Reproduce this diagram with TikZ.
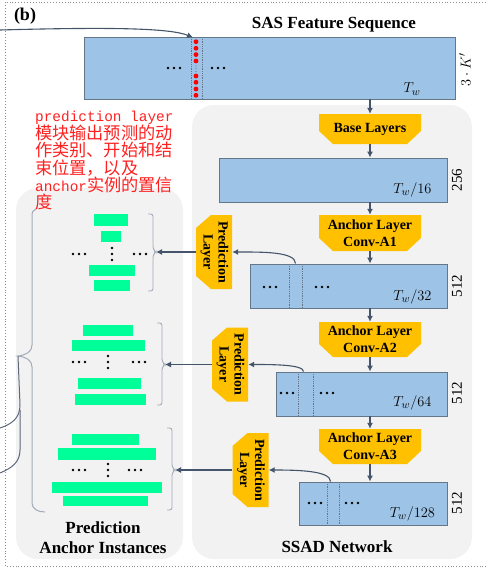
\documentclass[tikz,border=0pt]{standalone}
\usepackage{fontspec}
\setmainfont{Liberation Serif}
\newfontfamily\cjk{Noto Sans CJK SC}
\newfontfamily\lmono{Liberation Mono}
\usetikzlibrary{arrows.meta}
\definecolor{rfill}{HTML}{9DC3E6}
\definecolor{rdraw}{HTML}{66768A}
\definecolor{arrc}{HTML}{44546A}
\definecolor{ylw}{HTML}{FFC000}
\definecolor{panelc}{HTML}{F2F2F2}
\definecolor{barg}{HTML}{00FF99}
\definecolor{brc}{HTML}{A3AAB8}
\definecolor{crvc}{HTML}{5C687C}
\definecolor{framec}{HTML}{8C8C8C}
\definecolor{redt}{HTML}{FF2020}
\newcommand\myhdots[2]{\foreach \dx in {-6,0,6} \fill[black] (#1+\dx,#2) circle (1.3pt);}
\newcommand\myvdots[2]{\foreach \dy in {-6,0,6} \fill[black] (#1,#2+\dy) circle (1.3pt);}
\begin{document}
\begin{tikzpicture}[x=1pt,y=-1pt,
  fmap/.style={draw=rdraw, fill=rfill, line width=0.9pt, inner sep=0pt},
  arr/.style={draw=arrc, line width=1.1pt, -{Latex[length=6pt,width=6pt]}},
  panel/.style={fill=panelc, rounded corners=22pt, inner sep=0pt},
  ylay/.style={minimum width=102pt, minimum height=#1, inner sep=0pt,
    font=\bfseries\fontsize{14}{17}\selectfont, align=center,
    path picture={\fill[ylw] (path picture bounding box.north west) -- (path picture bounding box.north east)
      -- ([yshift=13pt]path picture bounding box.south east) -- ([xshift=-14pt]path picture bounding box.south east)
      -- ([xshift=14pt]path picture bounding box.south west) -- ([yshift=13pt]path picture bounding box.south west) -- cycle;}},
  pred/.style={minimum width=36pt, minimum height=74pt, inner sep=0pt,
    font=\bfseries\fontsize{14}{15}\selectfont,
    path picture={\fill[ylw] (path picture bounding box.north east) -- (path picture bounding box.south east)
      -- ([xshift=15pt]path picture bounding box.south west) -- ([yshift=13pt]path picture bounding box.south west)
      -- ([yshift=-13pt]path picture bounding box.north west) -- ([xshift=15pt]path picture bounding box.north west) -- cycle;}},
  title/.style={font=\bfseries\fontsize{17}{20}\selectfont, align=center, inner sep=0pt},
  dimlab/.style={font=\fontsize{15}{16}\selectfont, rotate=90, inner sep=0pt},
  twlab/.style={font=\fontsize{15}{16}\selectfont, inner sep=0pt},
  brk/.style={draw=brc, line width=0.9pt, rounded corners=2.5pt},
  colline/.style={draw=rdraw, densely dotted, line width=0.8pt},
  redl/.style={anchor=base west, inner sep=0pt, text=redt}
]
\useasboundingbox (0,0) rectangle (486,568);
% frame
\draw[framec, dotted, line width=0.9pt] (486,2) -- (5,2) -- (5,566) -- (486,566);
\node[font=\bfseries\fontsize{18}{20}\selectfont, inner sep=0pt] (lbl) at (25,16) {(b)};
% panels
\node[panel, minimum width=167pt, minimum height=371pt] (pai) at (99.5,373.5) {};
\node[panel, minimum width=280pt, minimum height=454pt] (ssad) at (332,332) {};
% titles
\node[title] (t1) at (334,25) {SAS Feature Sequence};
\node[title] (t2) at (103,538) {Prediction\\Anchor Instances};
\node[title] (t3) at (337,547) {SSAD Network};
% feature maps
\node[fmap, minimum width=371pt, minimum height=62pt] (sas) at (269.5,68) {};
\node[fmap, minimum width=228pt, minimum height=44pt] (r16) at (333,180) {};
\node[fmap, minimum width=197pt, minimum height=44pt] (r32) at (348.5,286) {};
\node[fmap, minimum width=171pt, minimum height=44pt] (r64) at (361.5,394) {};
\node[fmap, minimum width=148pt, minimum height=43pt] (r128) at (373,503.5) {};
% column lines
\draw[colline] (191,37) -- (191,99); \draw[colline] (202,37) -- (202,99);
\draw[colline] (289,264) -- (289,308); \draw[colline] (302,264) -- (302,308);
\draw[colline] (298,372) -- (298,416); \draw[colline] (313,372) -- (313,416);
\draw[colline] (327,482) -- (327,525); \draw[colline] (339,482) -- (339,525);
% red dots
\foreach \yy in {41.7,48.3,54.6,61,76,82.3,89,95.3} \fill[red] (196,\yy) circle (2.4pt);
\foreach \yy in {66,68.7,71.4} \fill[rdraw] (196,\yy) circle (0.6pt);
% dots in maps
\myhdots{174}{68} \myhdots{218}{68}
\myhdots{270}{287} \myhdots{322}{287}
\myhdots{287}{393} \myhdots{327}{393}
\myhdots{315}{503} \myhdots{352}{503}
% size labels
\node[twlab] (tw0) at (412,89) {$T_w$};
\node[twlab] (tw1) at (412.5,190) {$T_w/16$};
\node[twlab] (tw2) at (412.5,297) {$T_w/32$};
\node[twlab] (tw3) at (412.5,403) {$T_w/64$};
\node[twlab] (tw4) at (412.5,514) {$T_w/128$};
\node[dimlab] (d0) at (465,70) {$3\cdot K'$};
\node[dimlab] (d1) at (457,180) {256};
\node[dimlab] (d2) at (457,286) {512};
\node[dimlab] (d3) at (457,393) {512};
\node[dimlab] (d4) at (457,503) {512};
% yellow blocks
\node[ylay=30pt] (base) at (370,129) {Base Layers};
\node[ylay=36pt] (a1) at (370,233) {Anchor Layer\\Conv-A1};
\node[ylay=35pt] (a2) at (370,339.5) {Anchor Layer\\Conv-A2};
\node[ylay=35pt] (a3) at (370,446.5) {Anchor Layer\\Conv-A3};
\node[pred] (p1) at (214,252) {\rotatebox{-90}{\begin{tabular}{@{}c@{}}Prediction\\Layer\end{tabular}}};
\node[pred] (p2) at (230,364.5) {\rotatebox{-90}{\begin{tabular}{@{}c@{}}Prediction\\Layer\end{tabular}}};
\node[pred] (p3) at (250.5,470) {\rotatebox{-90}{\begin{tabular}{@{}c@{}}Prediction\\Layer\end{tabular}}};
% main arrows
\coordinate (src) at (0,30);
\coordinate (colTop) at (193,37.5);
\draw[arr] (src) .. controls (110,27) and (170,28) .. (colTop);
\draw[arr] (sas.south -| base.north) -- (base.north);
\draw[arr] (base.south) -- (base.south |- r16.north);
\draw[arr] (r16.south -| a1.north) -- (a1.north);
\draw[arr] (a1.south) -- (a1.south |- r32.north);
\draw[arr] (r32.south -| a2.north) -- (a2.north);
\draw[arr] (a2.south) -- (a2.south |- r64.north);
\draw[arr] (r64.south -| a3.north) -- (a3.north);
\draw[arr] (a3.south) -- (a3.south |- r128.north);
\draw[arr] ([xshift=46pt]r32.north west) .. controls +(0,-12) and +(30,0) .. (p1.east);
\draw[arr] ([xshift=28pt]r64.north west) .. controls +(0,-7) and +(25,0) .. (p2.east);
\draw[arr] ([xshift=32pt]r128.north west) .. controls +(0,-11) and +(28,0) .. (p3.east);
% brackets
\coordinate (b1) at (156,252);
\coordinate (b2) at (165,364.5);
\coordinate (b3) at (175,470);
\draw[brk] (148,214) -- (153,214) -- (153,249) -- (156,252) -- (153,255) -- (153,291) -- (148,291);
\draw[brk] (157,323) -- (162,323) -- (162,361.5) -- (165,364.5) -- (162,367.5) -- (162,405) -- (157,405);
\draw[brk] (167,428) -- (172,428) -- (172,467) -- (175,470) -- (172,473) -- (172,510) -- (167,510);
\draw[arr] (p1.west) -- (b1);
\draw[arr] (p2.west) -- (b2);
\draw[arr] (p3.west) -- (b3);
% bars group 1
\fill[barg] (94,214) rectangle (128,226);
\fill[barg] (101,231) rectangle (121,242);
\fill[barg] (89,265) rectangle (135,276);
\fill[barg] (94,280) rectangle (130,291);
\myhdots{79}{254} \myvdots{112}{254} \myhdots{140}{254}
% bars group 2
\fill[barg] (83,325) rectangle (133,336);
\fill[barg] (72,340) rectangle (145,351);
\fill[barg] (78,378) rectangle (141,389);
\fill[barg] (75,394) rectangle (146,405);
\myhdots{79}{362} \myvdots{108}{362} \myhdots{139}{362}
% bars group 3
\fill[barg] (72,434) rectangle (139,445);
\fill[barg] (58,448) rectangle (156,460);
\fill[barg] (52,482) rectangle (162,493);
\fill[barg] (63,496) rectangle (148,506);
\myhdots{79}{470} \myvdots{108}{470} \myhdots{135}{470}
% big brace and incoming curves
\draw[brc, line width=1pt] (36,209) .. controls (33,210) and (32,212) .. (32,216) -- (32,345)
  .. controls (32,352) and (26,355) .. (18,356) .. controls (26,357) and (32,360) .. (32,367)
  -- (32,503) .. controls (32,509) and (38,512) .. (45,512);
\coordinate (in1) at (0,428);
\coordinate (in2) at (0,473);
\coordinate (btip) at (18,356);
\draw[crvc, line width=1pt] (in1) .. controls (12,424) and (20,418) .. (20,405) -- (btip);
\draw[crvc, line width=1pt] (in2) .. controls (12,468) and (20,462) .. (20,450) -- (20,410);
% red note
\node[redl] (n1) at (35,121) {\lmono\fontsize{14.4}{17}\selectfont prediction layer};
\node[redl] (n2) at (35,139) {\cjk\fontsize{17.2}{17}\selectfont 模块输出预测的动};
\node[redl] (n3) at (35,156) {\cjk\fontsize{17.2}{17}\selectfont 作类别、开始和结};
\node[redl] (n4) at (35,174) {\cjk\fontsize{17.2}{17}\selectfont 束位置，以及};
\node[redl] (n5) at (35,191) {{\lmono\fontsize{14.4}{17}\selectfont anchor}{\cjk\fontsize{17.2}{17}\selectfont 实例的置信}};
\node[redl] (n6) at (35,208) {\cjk\fontsize{17.2}{17}\selectfont 度};
\end{tikzpicture}
\end{document}
